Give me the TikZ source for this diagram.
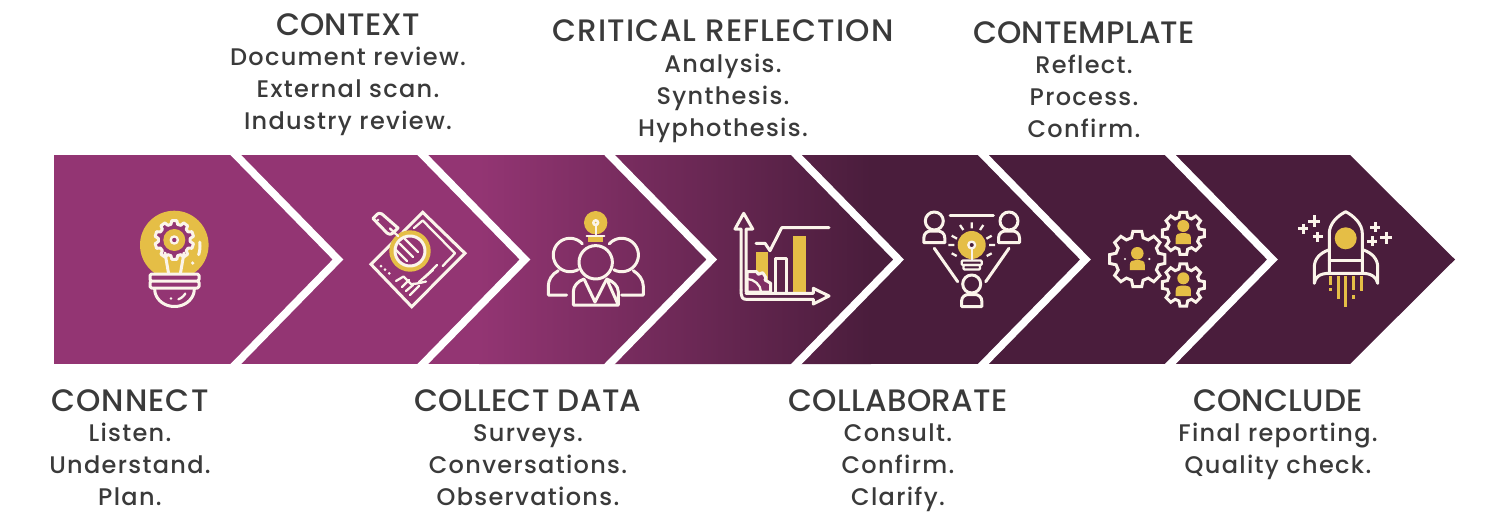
\documentclass[tikz,border=0pt]{standalone}
\usepackage{fontspec}
\newfontfamily\titlef{Poppins}[UprightFont=* Medium,LetterSpace=0.8]
\newfontfamily\titlewide{Poppins}[UprightFont=* Medium,LetterSpace=3.4]
\newfontfamily\bodyf{Poppins}[UprightFont=* Medium,LetterSpace=5.5]
\definecolor{plum}{HTML}{933573}
\definecolor{aubergine}{HTML}{4A1D3C}
\definecolor{gold}{HTML}{E5BE46}
\definecolor{cream}{HTML}{FBF4EA}
\definecolor{ink}{HTML}{3A3A3A}
\tikzset{
  ttl/.style={anchor=base,inner sep=0pt,text=ink,font=\titlef\fontsize{31}{31}\selectfont},
  ttlwide/.style={anchor=base,inner sep=0pt,text=ink,font=\titlewide\fontsize{31}{31}\selectfont},
  bdy/.style={anchor=base,inner sep=0pt,text=ink,font=\bodyf\fontsize{24}{24}\selectfont},
  ico/.style={draw=cream,line width=3pt,line join=round,line cap=round},
  thin ico/.style={draw=cream,line width=2.3pt,line join=round,line cap=round},
  goldline/.style={draw=gold,line width=3pt},
}
% opts, cx, cy, R, r, n, rot
\newcommand\iconGear[7]{%
  \pgfmathsetmacro\stp{360/#6}%
  \draw[#1] ({#2+#5*cos(#7-0.34*\stp)},{#3+#5*sin(#7-0.34*\stp)})
    \foreach \i in {1,...,#6}{
      -- ({#2+#4*cos(#7+(\i-1)*\stp-0.2*\stp)},{#3+#4*sin(#7+(\i-1)*\stp-0.2*\stp)})
      -- ({#2+#4*cos(#7+(\i-1)*\stp+0.2*\stp)},{#3+#4*sin(#7+(\i-1)*\stp+0.2*\stp)})
      -- ({#2+#5*cos(#7+(\i-1)*\stp+0.34*\stp)},{#3+#5*sin(#7+(\i-1)*\stp+0.34*\stp)})
      -- ({#2+#5*cos(#7+\i*\stp-0.34*\stp)},{#3+#5*sin(#7+\i*\stp-0.34*\stp)})
    } -- cycle;}
% opts, cx, cy, r, a, b
\newcommand\iconArc[6]{\draw[#1] plot[domain=#5:#6,samples=40] ({#2+#4*cos(\x)},{#3+#4*sin(\x)});}
% person outline: head x y, head r, body half width, body top, body bottom
\newcommand\iconPerson[6]{%
  \draw[ico] (#1,#2) circle[radius=#3];
  \draw[ico] (#1-#4,#6) -- (#1-#4,#5+7) .. controls (#1-#4,#5+2) and (#1-#4+4,#5) .. (#1-#4+7,#5)
     -- (#1+#4-7,#5) .. controls (#1+#4-4,#5) and (#1+#4,#5+2) .. (#1+#4,#5+7) -- (#1+#4,#6) -- cycle;}
% gold person: x, head y, head r, body half width, body top, body bottom
\newcommand\iconGoldPerson[6]{%
  \fill[gold] (#1,#2) circle[radius=#3];
  \fill[gold] (#1-#4,#6) -- (#1-#4,#5+5) .. controls (#1-#4,#5+1) and (#1-#4+3,#5) .. (#1-#4+6,#5)
     -- (#1+#4-6,#5) .. controls (#1+#4-3,#5) and (#1+#4,#5+1) .. (#1+#4,#5+5) -- (#1+#4,#6) -- cycle;}
\newcommand\iconPlus[3]{\draw[ico,line cap=butt] (#1-#3,#2) -- (#1+#3,#2) (#1,#2-#3) -- (#1,#2+#3);}
\begin{document}
\begin{tikzpicture}[x=1pt,y=-1pt]
\useasboundingbox (0,0) rectangle (1500,517);
% band
\begin{scope}
  \clip (54,155) -- (1350,155) -- (1455,259.5) -- (1350,364) -- (54,364) -- cycle;
  \fill[plum] (54,155) rectangle (480,364);
  \fill[aubergine] (870,155) rectangle (1460,364);
  \shade[left color=plum,right color=aubergine] (479,155) rectangle (871,364);
\end{scope}
% chevrons
\foreach \t in {338,525,711.8,898.6,1085.5,1272.5}
  \draw[white,line width=7.6pt,miter limit=10] (\t-112,145) -- (\t,259.5) -- (\t-112,374);

% ---- icon 1: bulb with gear
\begin{scope}
  \clip (130,200) rectangle (220,273);
  \fill[gold] (174.3,245) circle[radius=34.3];
\end{scope}
\iconGear{ico,fill=plum}{174.3}{240}{19.5}{16}{10}{18}
\fill[gold] (174.3,240) circle[radius=11];
\draw[thin ico,fill=plum] (174.3,240) circle[radius=3.6];
\draw[ico] (165,253) -- (168.5,273) (184,253) -- (180.5,273);
\draw[ico,rounded corners=1.5pt] (150,274) rectangle (199,281) (150,281) rectangle (199,288);
\draw[ico] plot[domain=180:0,samples=30] ({174.5+19.8*cos(\x)},{289+17.5*sin(\x)});
\iconArc{ico}{172}{246}{28}{-8}{18}
\fill[cream] (192.7,263) circle[radius=1.8];
\iconArc{thin ico}{174}{287}{13}{70}{30}
\fill[cream] (171,298.5) circle[radius=1.3];

% ---- icon 2: document and magnifier
\draw[ico,line join=miter] (371,264.3) -- (422.7,212.3) -- (465,253.3) -- (411.7,306.7) -- cycle;
\draw[thin ico] (414,228) -- (422.7,220.5) -- (455,253.3) -- (442.7,266);
\draw[thin ico] (429,273) -- (437,265) (424,278) -- (433,270) (419,282) -- (429,273);
\fill[cream] (381,266) circle[radius=1.5] (385,269.5) circle[radius=1.5] (389.3,273.3) circle[radius=1.5];
\draw[thin ico] (396,281) -- (403.5,276.5) -- (411,284) .. controls (416,284) and (420,283) .. (426,281.5);
\draw[thin ico] (402,287) -- (409,280) (406,291) -- (413,285) (410,295) -- (419,286);
\fill[gold] (410,251) circle[radius=20.7];
\draw[ico,fill=plum] (410,251) circle[radius=15];
\draw[thin ico] (405,239) -- (418,252) (400,244) -- (413,257) (396,250) -- (407,261);
\draw[ico] (377.5,214) -- (373,218.5) -- (387,233) .. controls (390,235) and (392,234) .. (393,233)
   -- (398,228) -- (382,214) .. controls (380,213) and (378.5,213) .. (377.5,214);
\draw[thin ico] (390,228.5) -- (398,236);
\fill[cream] (378,220) circle[radius=1.4];

% ---- icon 3: team with bulb
\fill[gold] (595.7,222.7) circle[radius=11.7];
\fill[gold] (588.3,237.3) rectangle (603.3,241.7);
\draw[thin ico] (595.7,225) -- (595.7,235);
\draw[thin ico,fill=white] (595.7,222.7) circle[radius=2.5];
\fill[gold] (595.7,222.7) circle[radius=1];
\draw[thin ico] (586.7,235.7) -- (604.3,235.7);
\iconArc{ico}{570}{255}{16.7}{62}{318}
\iconArc{ico}{621.7}{255}{16.7}{118}{-138}
\draw[ico] (595.7,262.3) circle[radius=16.7];
\draw[ico] (573.3,305) -- (573.3,291.7) .. controls (573.3,286) and (578,281) .. (584,279)
   (606.7,279) .. controls (613,281) and (618.3,286) .. (618.3,291.7) -- (618.3,305) -- cycle
   (573.3,305) -- (618.3,305);
\draw[ico] (584.5,280) -- (595,302) -- (606.2,280);
\draw[ico] (558.3,270.7) .. controls (552,274) and (548.3,280) .. (548.3,286) -- (548.3,295) -- (566.7,295);
\draw[ico] (633.3,270.7) .. controls (639,274) and (643.3,280) .. (643.3,286) -- (643.3,295) -- (621.7,295);

% ---- icon 4: chart
\fill[gold] (756,251.7) rectangle (768.3,292);
\fill[gold] (792.7,235.7) rectangle (805.7,292);
\draw[ico] (741,290) -- (741,229) -- (735,229) -- (743.7,213.3) -- (752.7,229) -- (746,229) -- (746,292);
\draw[ico,fill=plum!72!aubergine] (747,271.7) -- (756.7,271.7) -- (758.3,274.3) -- (762.7,272.7) -- (766,277.7) -- (765,280) -- (770.7,283.3) -- (770.7,292) -- (747,292) -- cycle;
\draw[thin ico] (747,279) .. controls (754,279) and (761,285) .. (761,292);
\draw[ico] (775,292) -- (775,258.3) -- (786,258.3) -- (786,292);
\draw[ico] (756,243.3) -- (765,243.3) -- (770,250.7) -- (781.7,227.7) -- (829,227.7);
\draw[ico] (741,290) .. controls (741,298) and (743,299.3) .. (746,299.3) -- (813.3,299.3) -- (813.3,304) -- (829,296) -- (813.3,288.3) -- (813.3,293.3) -- (746,293.3);

% ---- icon 5: collaboration
\iconPerson{934.3}{221}{9}{10.5}{231}{242.7}
\iconPerson{1009}{221}{9}{10.5}{231}{242.7}
\iconPerson{971.7}{284}{9}{10.2}{294.5}{306.5}
\draw[ico] (950,215.7) -- (993.3,215.7);
\draw[ico] (934.3,248.3) -- (957.7,281.7) (1009,248.3) -- (985.7,281.7);
\begin{scope}
  \clip (950,225) rectangle (995,260);
  \fill[gold] (971.7,245) circle[radius=14];
\end{scope}
\draw[thin ico] (971.7,249) -- (971.7,260);
\draw[thin ico,fill=aubergine] (971.7,245) circle[radius=3.4];
\draw[thin ico,rounded corners=1pt] (961.7,260.5) rectangle (981.7,265);
\draw[thin ico,rounded corners=1pt] (963.5,265) rectangle (980,269.5);
\draw[thin ico,line cap=butt] (971.7,222.3) -- (971.7,228.3) (960,225) -- (963.3,230) (983.3,225) -- (980,230)
  (951.7,235.7) -- (957,238.7) (991.7,235.7) -- (986.4,238.7)
  (948.3,245) -- (954.3,245) (989,245) -- (995,245)
  (951.7,253.3) -- (956.7,256) (991.7,253.3) -- (986.7,256);

% ---- icon 6: gears with people
\iconGear{ico,line join=miter}{1137.3}{259}{28}{22}{8}{0}
\iconGear{ico,line join=miter}{1183.3}{233.3}{21.3}{16.5}{8}{0}
\iconGear{ico,line join=miter}{1183.3}{285}{21.3}{16.5}{8}{0}
\iconGoldPerson{1137.3}{253.3}{6.3}{7.5}{260}{270}
\iconGoldPerson{1183.3}{226}{6}{7.6}{233}{244}
\iconGoldPerson{1183.3}{278.3}{6}{7.6}{285.5}{296}
\fill[cream] (1125,259) circle[radius=1.2] (1149.3,259) circle[radius=1.2];

% ---- icon 7: rocket
\fill[gold] (1345.7,238.3) circle[radius=11];
\draw[ico] (1329.3,273) -- (1329.3,233.3) .. controls (1329.3,224) and (1337,216) .. (1345.7,211.7)
   .. controls (1354,216) and (1362.3,224) .. (1362.3,233.3) -- (1362.3,273);
\draw[ico] (1329.3,260.7) -- (1362.3,260.7);
\draw[ico] (1328.5,250) .. controls (1320,253) and (1314.3,259) .. (1314.3,267) -- (1314.3,283.3)
   .. controls (1315,277) and (1320,273.3) .. (1329.3,273.3) -- (1362.3,273.3)
   .. controls (1371,273.3) and (1376.5,277) .. (1377.7,283.3) -- (1377.7,267)
   .. controls (1377.7,259) and (1372,253) .. (1363.5,250);
\draw[goldline] (1330,276) -- (1330,285) (1330,288.3) -- (1330,291.3)
  (1338.3,276) -- (1338.3,298.5) (1345.7,276) -- (1345.7,306.7)
  (1353.7,276) -- (1353.7,290) (1353.7,295) -- (1353.7,298.5)
  (1361.7,276) -- (1361.7,291);
\iconPlus{1314.3}{221}{6}
\iconPlus{1303.3}{228.7}{5}
\iconPlus{1317.7}{236.7}{5}
\iconPlus{1375}{227.3}{5}
\iconPlus{1372}{241}{5}
\iconPlus{1386}{237.7}{6}

% ---- text
\node[ttlwide] (t1) at (130,411) {CONNECT};
\node[bdy] (t1a) at (130,441) {Listen.};
\node[bdy] (t1b) at (130,473) {Understand.};
\node[bdy] (t1c) at (130,505) {Plan.};
\node[ttl] (t2) at (348,35) {CONTEXT};
\node[bdy] (t2a) at (348,65) {Document review.};
\node[bdy] (t2b) at (348,97) {External scan.};
\node[bdy] (t2c) at (348,129) {Industry review.};
\node[ttl] (t3) at (528,411) {COLLECT DATA};
\node[bdy] (t3a) at (528,441) {Surveys.};
\node[bdy] (t3b) at (528,473) {Conversations.};
\node[bdy] (t3c) at (528,505) {Observations.};
\node[ttlwide] (t4) at (723,41) {CRITICAL REFLECTION};
\node[bdy] (t4a) at (723,72) {Analysis.};
\node[bdy] (t4b) at (723,104) {Synthesis.};
\node[bdy] (t4c) at (723,136) {Hyphothesis.};
\node[ttl] (t5) at (898,411) {COLLABORATE};
\node[bdy] (t5a) at (898,441) {Consult.};
\node[bdy] (t5b) at (898,473) {Confirm.};
\node[bdy] (t5c) at (898,505) {Clarify.};
\node[ttl] (t6) at (1084,43) {CONTEMPLATE};
\node[bdy] (t6a) at (1084,73) {Reflect.};
\node[bdy] (t6b) at (1084,105) {Process.};
\node[bdy] (t6c) at (1084,137) {Confirm.};
\node[ttl] (t7) at (1278,411) {CONCLUDE};
\node[bdy] (t7a) at (1278,441) {Final reporting.};
\node[bdy] (t7b) at (1278,473) {Quality check.};
\end{tikzpicture}
\end{document}
